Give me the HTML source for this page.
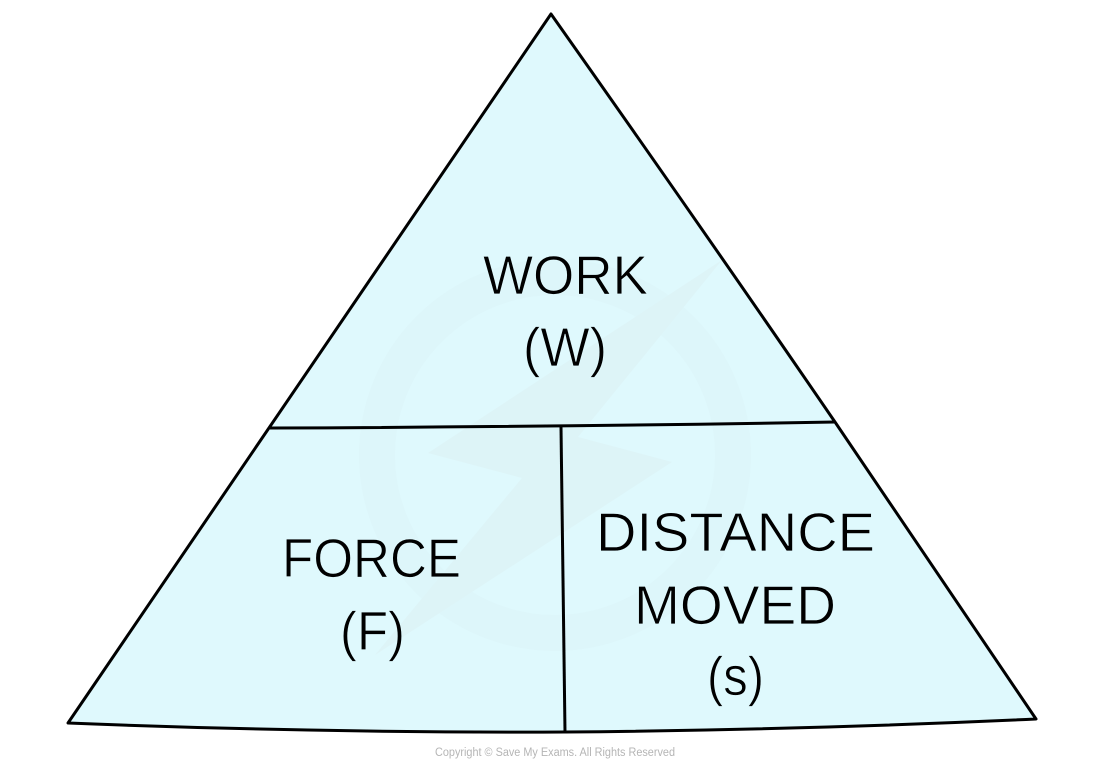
<!DOCTYPE html>
<html><head><meta charset="utf-8"><style>
html,body{margin:0;padding:0;background:#fff;width:1100px;height:767px;overflow:hidden}
svg{display:block}
.t{font-family:"Liberation Sans",sans-serif;font-size:55px;fill:#000;stroke:#dff9fd;stroke-width:.8px;paint-order:normal}
</style></head><body>
<svg width="1100" height="767" viewBox="0 0 1100 767" xmlns="http://www.w3.org/2000/svg">
<path d="M551 14 Q700 225 835 422 L1036 719 Q800 730 565 732 Q320 733 68 723 Z" fill="#dff9fd"/>
<circle cx="555" cy="455" r="178" fill="none" stroke="#ddf6fa" stroke-width="36"/>
<path d="M722 260 L428 453 L522 478 L375 655 L672 462 L578 437 Z" fill="#ddf4f7"/>
<path d="M551 14 Q700 225 835 422 L1036 719 Q800 730 565 732 Q320 733 68 723 Z" fill="none" stroke="#000" stroke-width="3" stroke-linejoin="round"/>
<path d="M270 428 Q550 427 835 422" fill="none" stroke="#000" stroke-width="3"/>
<path d="M561 427 L565 732" fill="none" stroke="#000" stroke-width="3"/>
<text class="t" x="483" y="294" textLength="165" lengthAdjust="spacingAndGlyphs">WORK</text>
<text class="t" x="523" y="366" textLength="84" lengthAdjust="spacingAndGlyphs">(W)</text>
<text class="t" x="282" y="577" textLength="179" lengthAdjust="spacingAndGlyphs">FORCE</text>
<text class="t" x="340" y="650" textLength="65" lengthAdjust="spacingAndGlyphs">(F)</text>
<text class="t" x="596" y="551" textLength="279" lengthAdjust="spacingAndGlyphs">DISTANCE</text>
<text class="t" x="634" y="624" textLength="202" lengthAdjust="spacingAndGlyphs">MOVED</text>
<text class="t" x="707" y="695" textLength="57" lengthAdjust="spacingAndGlyphs">(s)</text>
<text x="435" y="756" font-family="'Liberation Sans',sans-serif" font-size="11.5" fill="#b5b5b5" textLength="240" lengthAdjust="spacingAndGlyphs">Copyright © Save My Exams. All Rights Reserved</text>
</svg>
</body></html>
